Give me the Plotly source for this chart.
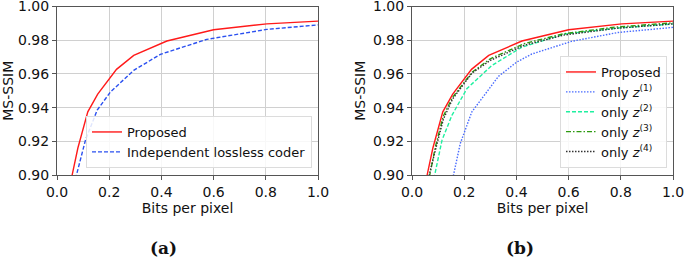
import plotly.graph_objects as go

# ---- data ----
prop_x = [0.045, 0.058, 0.080, 0.118, 0.156, 0.228, 0.294, 0.421, 0.600, 0.804, 1.000]
prop_y = [0.880, 0.900, 0.916, 0.9375, 0.948, 0.9627, 0.971, 0.9795, 0.9862, 0.9897, 0.9913]

indep_x = [0.062, 0.0746, 0.109, 0.154, 0.205, 0.294, 0.396, 0.574, 0.804, 1.000]
indep_y = [0.880, 0.900, 0.9207, 0.9385, 0.9493, 0.9621, 0.9716, 0.9805, 0.9864, 0.9891]

z1_x = [0.150, 0.159, 0.185, 0.229, 0.331, 0.401, 0.459, 0.611, 0.790, 1.000]
z1_y = [0.880, 0.900, 0.9187, 0.9374, 0.9585, 0.9670, 0.9718, 0.9793, 0.9846, 0.9876]

z2_x = [0.075, 0.087, 0.115, 0.153, 0.210, 0.306, 0.420, 0.586, 0.790, 1.000]
z2_y = [0.880, 0.900, 0.9207, 0.9354, 0.9512, 0.9650, 0.9758, 0.9837, 0.9872, 0.9896]

z3_x = [0.055, 0.068, 0.090, 0.120, 0.155, 0.230, 0.300, 0.430, 0.580, 0.780, 1.000]
z3_y = [0.880, 0.900, 0.917, 0.935, 0.946, 0.961, 0.969, 0.978, 0.9838, 0.9878, 0.9903]

z4_x = [0.054, 0.066, 0.090, 0.120, 0.155, 0.230, 0.300, 0.430, 0.580, 0.780, 1.000]
z4_y = [0.880, 0.900, 0.915, 0.933, 0.945, 0.9605, 0.968, 0.977, 0.9830, 0.9870, 0.9897]

x_ticks = [0.0, 0.2, 0.4, 0.6, 0.8, 1.0]
y_ticks = [0.90, 0.92, 0.94, 0.96, 0.98, 1.00]

FONT = "DejaVu Sans"
fig = go.Figure()

lw = 1.4
fig.add_trace(go.Scatter(x=prop_x, y=prop_y, mode="lines", name="Proposed",
                         line=dict(color="#ff1a1a", width=lw), xaxis="x", yaxis="y", legend="legend"))
fig.add_trace(go.Scatter(x=indep_x, y=indep_y, mode="lines", name="Independent lossless coder",
                         line=dict(color="#2b50f0", width=lw, dash="4px,2px"), xaxis="x", yaxis="y", legend="legend"))

fig.add_trace(go.Scatter(x=prop_x, y=prop_y, mode="lines", name="Proposed",
                         line=dict(color="#ff1a1a", width=lw), xaxis="x2", yaxis="y2", legend="legend2"))
fig.add_trace(go.Scatter(x=z1_x, y=z1_y, mode="lines", name="only <i>z</i><sup>(1)</sup>",
                         line=dict(color="#4a6cff", width=lw, dash="1.5px,1.5px"), xaxis="x2", yaxis="y2", legend="legend2"))
fig.add_trace(go.Scatter(x=z2_x, y=z2_y, mode="lines", name="only <i>z</i><sup>(2)</sup>",
                         line=dict(color="#1ff0a0", width=lw, dash="4px,2px"), xaxis="x2", yaxis="y2", legend="legend2"))
fig.add_trace(go.Scatter(x=z3_x, y=z3_y, mode="lines", name="only <i>z</i><sup>(3)</sup>",
                         line=dict(color="#2e9a10", width=lw, dash="5px,2px,1.5px,2px"), xaxis="x2", yaxis="y2", legend="legend2"))
fig.add_trace(go.Scatter(x=z4_x, y=z4_y, mode="lines", name="only <i>z</i><sup>(4)</sup>",
                         line=dict(color="#333333", width=lw, dash="1.5px,1.5px"), xaxis="x2", yaxis="y2", legend="legend2"))

W, H = 685, 259


def px(x):
    return x / W


def py(y):
    return 1 - y / H


axis_common = dict(showline=True, mirror=True, linecolor="#555555", linewidth=1,
                   showgrid=True, gridcolor="#d0d0d0", gridwidth=1, automargin=False,
                   ticks="outside", ticklen=4, tickcolor="#555555", zeroline=False,
                   ticklabeloverflow="allow",
                   tickfont=dict(family=FONT, size=14, color="#111111"))

xl = [px(57), px(318)]
xr = [px(412), px(673)]
yd = [py(175), py(6.5)]

fig.update_layout(
    template="none",
    width=W, height=H,
    margin=dict(l=0, r=0, t=0, b=0, autoexpand=False),
    paper_bgcolor="white", plot_bgcolor="white",
    font=dict(family=FONT, size=14, color="#111111"),
    xaxis=dict(domain=xl, range=[0, 1], tickvals=x_ticks, tickformat=".1f", anchor="y",
               title=dict(text="Bits per pixel", font=dict(size=14), standoff=2), **axis_common),
    yaxis=dict(domain=yd, range=[0.9, 1.0], tickvals=y_ticks, tickformat=".2f", anchor="x",
               title=dict(text="MS-SSIM", font=dict(size=14), standoff=4), **axis_common),
    xaxis2=dict(domain=xr, range=[0, 1], tickvals=x_ticks, tickformat=".1f", anchor="y2",
                title=dict(text="Bits per pixel", font=dict(size=14), standoff=2), **axis_common),
    yaxis2=dict(domain=yd, range=[0.9, 1.0], tickvals=y_ticks, tickformat=".2f", anchor="x2",
                title=dict(text="MS-SSIM", font=dict(size=14), standoff=4), **axis_common),
    legend=dict(x=px(312), y=py(168), xanchor="right", yanchor="bottom",
                bgcolor="rgba(255,255,255,0.85)", bordercolor="#dcdcdc", borderwidth=1,
                font=dict(family=FONT, size=13), tracegroupgap=0, itemwidth=30),
    legend2=dict(x=px(667), y=py(168), xanchor="right", yanchor="bottom",
                 bgcolor="rgba(255,255,255,0.85)", bordercolor="#dcdcdc", borderwidth=1,
                 font=dict(family=FONT, size=13), tracegroupgap=0, itemwidth=30),
    showlegend=True,
    annotations=[
        dict(text="<b>(a)</b>", x=px(163), y=py(248), xref="paper", yref="paper",
             xanchor="center", yanchor="middle",
             showarrow=False, font=dict(family="DejaVu Serif", size=17, color="#111111")),
        dict(text="<b>(b)</b>", x=px(520), y=py(248), xref="paper", yref="paper",
             xanchor="center", yanchor="middle",
             showarrow=False, font=dict(family="DejaVu Serif", size=17, color="#111111")),
    ],
)

# remove the browser's default 8px page margin so the figure sits at (0, 0)
fig.write_html("out.html", config={"displayModeBar": False},
               post_script="document.body.style.margin='0px';")
